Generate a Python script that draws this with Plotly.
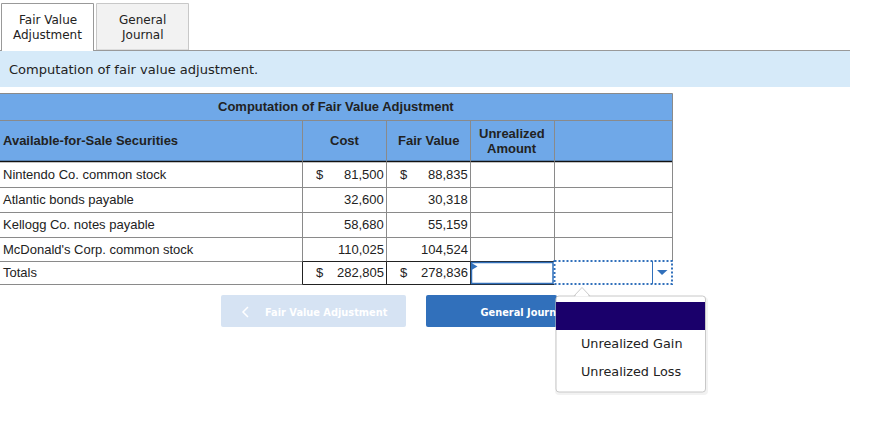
import plotly.graph_objects as go

# ---- data ----
securities = ["Nintendo Co. common stock", "Atlantic bonds payable", "Kellogg Co. notes payable",
              "McDonald's Corp. common stock", "Totals"]
cost = [81500, 32600, 58680, 110025, 282805]
fair_value = [88835, 30318, 55159, 104524, 278836]
dollar_rows = ["Nintendo Co. common stock", "Totals"]
column_heads = ["Available-for-Sale Securities", "Cost", "Fair Value", "Unrealized", "Amount"]
table_title = "Computation of Fair Value Adjustment"
instruction = "Computation of fair value adjustment."
tabs = [["Fair Value", "Adjustment"], ["General", "Journal"]]
back_button = "Fair Value Adjustment"
next_button = "General Journal"
menu_items = ["Unrealized Gain", "Unrealized Loss"]

# ---- layout geometry (page pixels) ----
W, H = 876, 433
VERDANA = "DejaVu Sans"
ARIAL = "Liberation Sans"
col_x = [302.5, 386.5, 470.5, 554.5, 672.5]
row_y = [93.5, 120.5, 161.5, 187.5, 212.5, 237.5, 261.5, 284.5]
row_mid = [174.5, 199.5, 224.5, 249.5, 272.5]
HEAD = "#6fa8e8"
GRID = "#8a8a8a"
DARK = "#222222"
BLUE = "#3170bb"

shapes, ann = [], []


def rect(x0, y0, x1, y1, fill=None, line=None, lw=1, dash=None, layer="below"):
    shapes.append(dict(type="rect", x0=x0, y0=y0, x1=x1, y1=y1, fillcolor=fill or "rgba(0,0,0,0)",
                       line=dict(color=line or "rgba(0,0,0,0)", width=lw if line else 0, dash=dash),
                       layer=layer))


def seg(x0, y0, x1, y1, color=GRID, lw=1, dash=None, layer="below"):
    shapes.append(dict(type="line", x0=x0, y0=y0, x1=x1, y1=y1,
                       line=dict(color=color, width=lw, dash=dash), layer=layer))


def poly(d, fill, line=None, lw=1, layer="below"):
    shapes.append(dict(type="path", path=d, fillcolor=fill,
                       line=dict(color=line or "rgba(0,0,0,0)", width=lw if line else 0), layer=layer))


def rounded(x0, y0, x1, y1, r):
    return (f"M{x0+r},{y0} L{x1-r},{y0} Q{x1},{y0} {x1},{y0+r} L{x1},{y1-r} Q{x1},{y1} {x1-r},{y1} "
            f"L{x0+r},{y1} Q{x0},{y1} {x0},{y1-r} L{x0},{y0+r} Q{x0},{y0} {x0+r},{y0} Z")


def text(x, y, s, size=13, family=ARIAL, color="#222222", anchor="left", bold=False):
    if bold:
        s = f"<b>{s}</b>"
    ann.append(dict(x=x, y=y, text=s, showarrow=False, xanchor=anchor, yanchor="middle",
                    font=dict(size=size, family=family, color=color), borderpad=0, borderwidth=0))


# tabs
rect(1.5, 3.5, 93.5, 51, "#ffffff", "#999999")
rect(96.5, 3.5, 188.5, 50, "#f2f2f2", "#c8c8c8")
seg(0, 50.5, 850, 50.5, "#999999")
seg(2, 50.5, 93, 50.5, "#ffffff")
for cx, lines in zip([47.5, 142.5], tabs):
    text(cx, 19.5, lines[0], size=12, family=VERDANA, anchor="center")
    text(cx, 34.5, lines[1], size=12, family=VERDANA, anchor="center")

# instruction band
rect(0, 51, 850, 87, "#d6eaf9")
text(9, 69.5, instruction, size=13.05, family=VERDANA)

# table header + body
rect(0, row_y[0], col_x[-1], row_y[2], HEAD)
seg(0, row_y[0], col_x[-1], row_y[0])
seg(0, row_y[1], col_x[-1], row_y[1])
seg(0, row_y[2], col_x[-1], row_y[2], "#111111", 1.5)
for y in row_y[3:6]:
    seg(0, y, col_x[-1], y)
seg(0, row_y[6], col_x[0], row_y[6])
seg(0, row_y[7], col_x[0], row_y[7])
seg(col_x[0], row_y[6], col_x[3], row_y[6], DARK)
seg(col_x[0], row_y[7], col_x[3], row_y[7], DARK, 1.2)
for x in col_x:
    seg(x, row_y[1] if x != col_x[-1] else row_y[0], x, row_y[2])
    seg(x, row_y[2], x, row_y[6])
for x in col_x[:3]:
    seg(x, row_y[6], x, row_y[7], DARK)

text(336, 106, table_title, bold=True, anchor="center")
text(3, 140, column_heads[0], bold=True)
text(344.5, 140, column_heads[1], bold=True, anchor="center")
text(428.5, 140, column_heads[2], bold=True, anchor="center")
text(511.5, 133, column_heads[3], bold=True, anchor="center")
text(511.5, 148, column_heads[4], bold=True, anchor="center")

for name, c, f, y in zip(securities, cost, fair_value, row_mid):
    text(3, y, name)
    text(383.5, y, f"{c:,}", anchor="right")
    text(467.5, y, f"{f:,}", anchor="right")
    if name in dollar_rows:
        text(316, y, "$")
        text(400, y, "$")

# focused input and dropdown
rect(471.5, 262.5, 553, 283.5, "#ffffff", BLUE, 1.5)
poly("M471.5,263 L477.5,266.5 L471.5,270 Z", BLUE)
rect(554.5, 261, 672, 284, "#ffffff")
rect(554.5, 261, 672, 284, None, BLUE, 2, "2px,2px")
seg(652.5, 261, 652.5, 284, BLUE, 1)
poly("M657,270 L667.5,270 L662,275 Z", BLUE)

# buttons
poly(rounded(221, 295, 406, 327, 2), "#d6e3f3")
poly(rounded(426, 295, 557, 327, 2), BLUE)
shapes.append(dict(type="path", path="M248,307 L243,312 L248,317", line=dict(color="#ffffff", width=1.5)))
text(265, 312, back_button, size=9.8, family=VERDANA, color="#ffffff", bold=True)

# next-button label is a trace so the popup can cover it
traces = [go.Scatter(x=[480.5], y=[313.5], mode="text", text=[f"<b>{next_button}</b>"],
                     textposition="middle right", hoverinfo="skip", showlegend=False,
                     textfont=dict(size=9.8, family=VERDANA, color="#ffffff"))]

# popup menu
poly(rounded(555, 297, 708, 395, 4), "rgba(0,0,0,0.05)", layer="above")
poly("M574,296 L582,287.5 L590,296 Z", "#ffffff", "#cccccc", layer="above")
poly(rounded(556, 296, 705.5, 392, 3), "#ffffff", "#c8c8c8", layer="above")
poly("M575,296.5 L582,288.5 L589,296.5 Z", "#ffffff", layer="above")
rect(556, 302, 705, 330, "#1a006b", layer="above")
text(581, 343.5, menu_items[0], size=12.8, family=VERDANA)
text(581, 371.5, menu_items[1], size=12.8, family=VERDANA)

fig = go.Figure(traces)
fig.update_layout(width=W, height=H, margin=dict(l=0, r=0, t=0, b=0), paper_bgcolor="#ffffff",
                  plot_bgcolor="#ffffff", shapes=shapes, annotations=ann, showlegend=False,
                  xaxis=dict(range=[0, W], visible=False, fixedrange=True),
                  yaxis=dict(range=[H, 0], visible=False, fixedrange=True))
fig.write_html("out.html", config=dict(displayModeBar=False),
               post_script="document.body.style.margin='0';document.body.style.overflow='hidden';")
